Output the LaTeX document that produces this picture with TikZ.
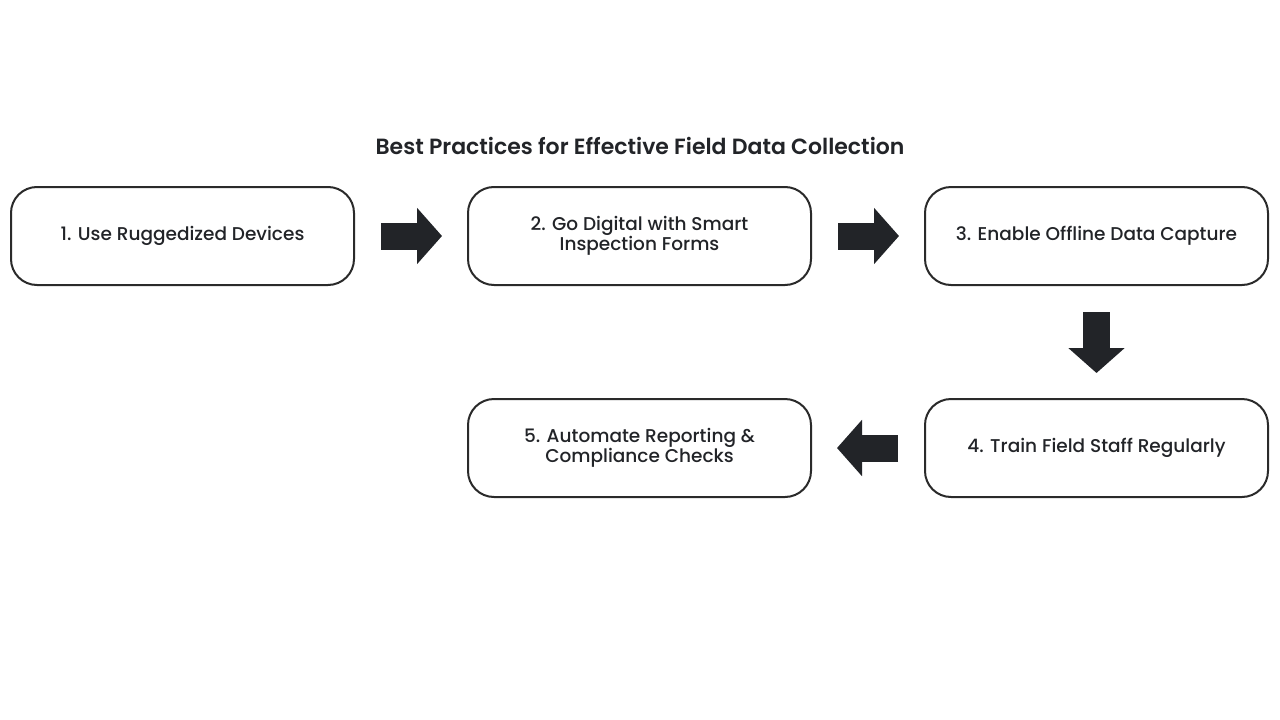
\documentclass[tikz,border=0pt]{standalone}
\usepackage{fontspec}
\setmainfont{Poppins}[UprightFont={* Medium}, BoldFont={* SemiBold}]
\usepackage{tikz}
\usetikzlibrary{arrows.meta,positioning}
\definecolor{ink}{HTML}{222428}
\definecolor{edge}{HTML}{2A2A2A}

\begin{document}
\begin{tikzpicture}[x=1pt, y=-1pt,
  practice/.style={draw=edge, line width=2pt, rounded corners=26pt, minimum width=343pt,
                   minimum height=98pt, align=center, text=ink,
                   font=\fontsize{18.5}{19}\selectfont},
  blockarr/.style={-{Triangle[length=25pt, width=55pt]}, line width=27pt, draw=ink,
                   shorten <=26pt, shorten >=25pt},
]
  \useasboundingbox[fill=white] (0,0) rectangle (1280,720);

  \node[font=\fontsize{22}{24}\bfseries, text=ink] (title) at (640,146)
    {Best Practices for Effective Field Data Collection};

  \node[practice] (s1) at (182.5,236) {1. Use Ruggedized Devices};
  \node[practice, right=112pt of s1] (s2) {2. Go Digital with Smart\\Inspection Forms};
  \node[practice, right=112pt of s2] (s3) {3. Enable Offline Data Capture};
  \node[practice, below=112pt of s3] (s4) {4. Train Field Staff Regularly};
  \node[practice, left=112pt of s4] (s5) {5. Automate Reporting \&\\Compliance Checks};

  \draw[blockarr] (s1) -- (s2);
  \draw[blockarr] (s2) -- (s3);
  \draw[blockarr] (s3) -- (s4);
  \draw[blockarr] (s4) -- (s5);
\end{tikzpicture}
\end{document}
